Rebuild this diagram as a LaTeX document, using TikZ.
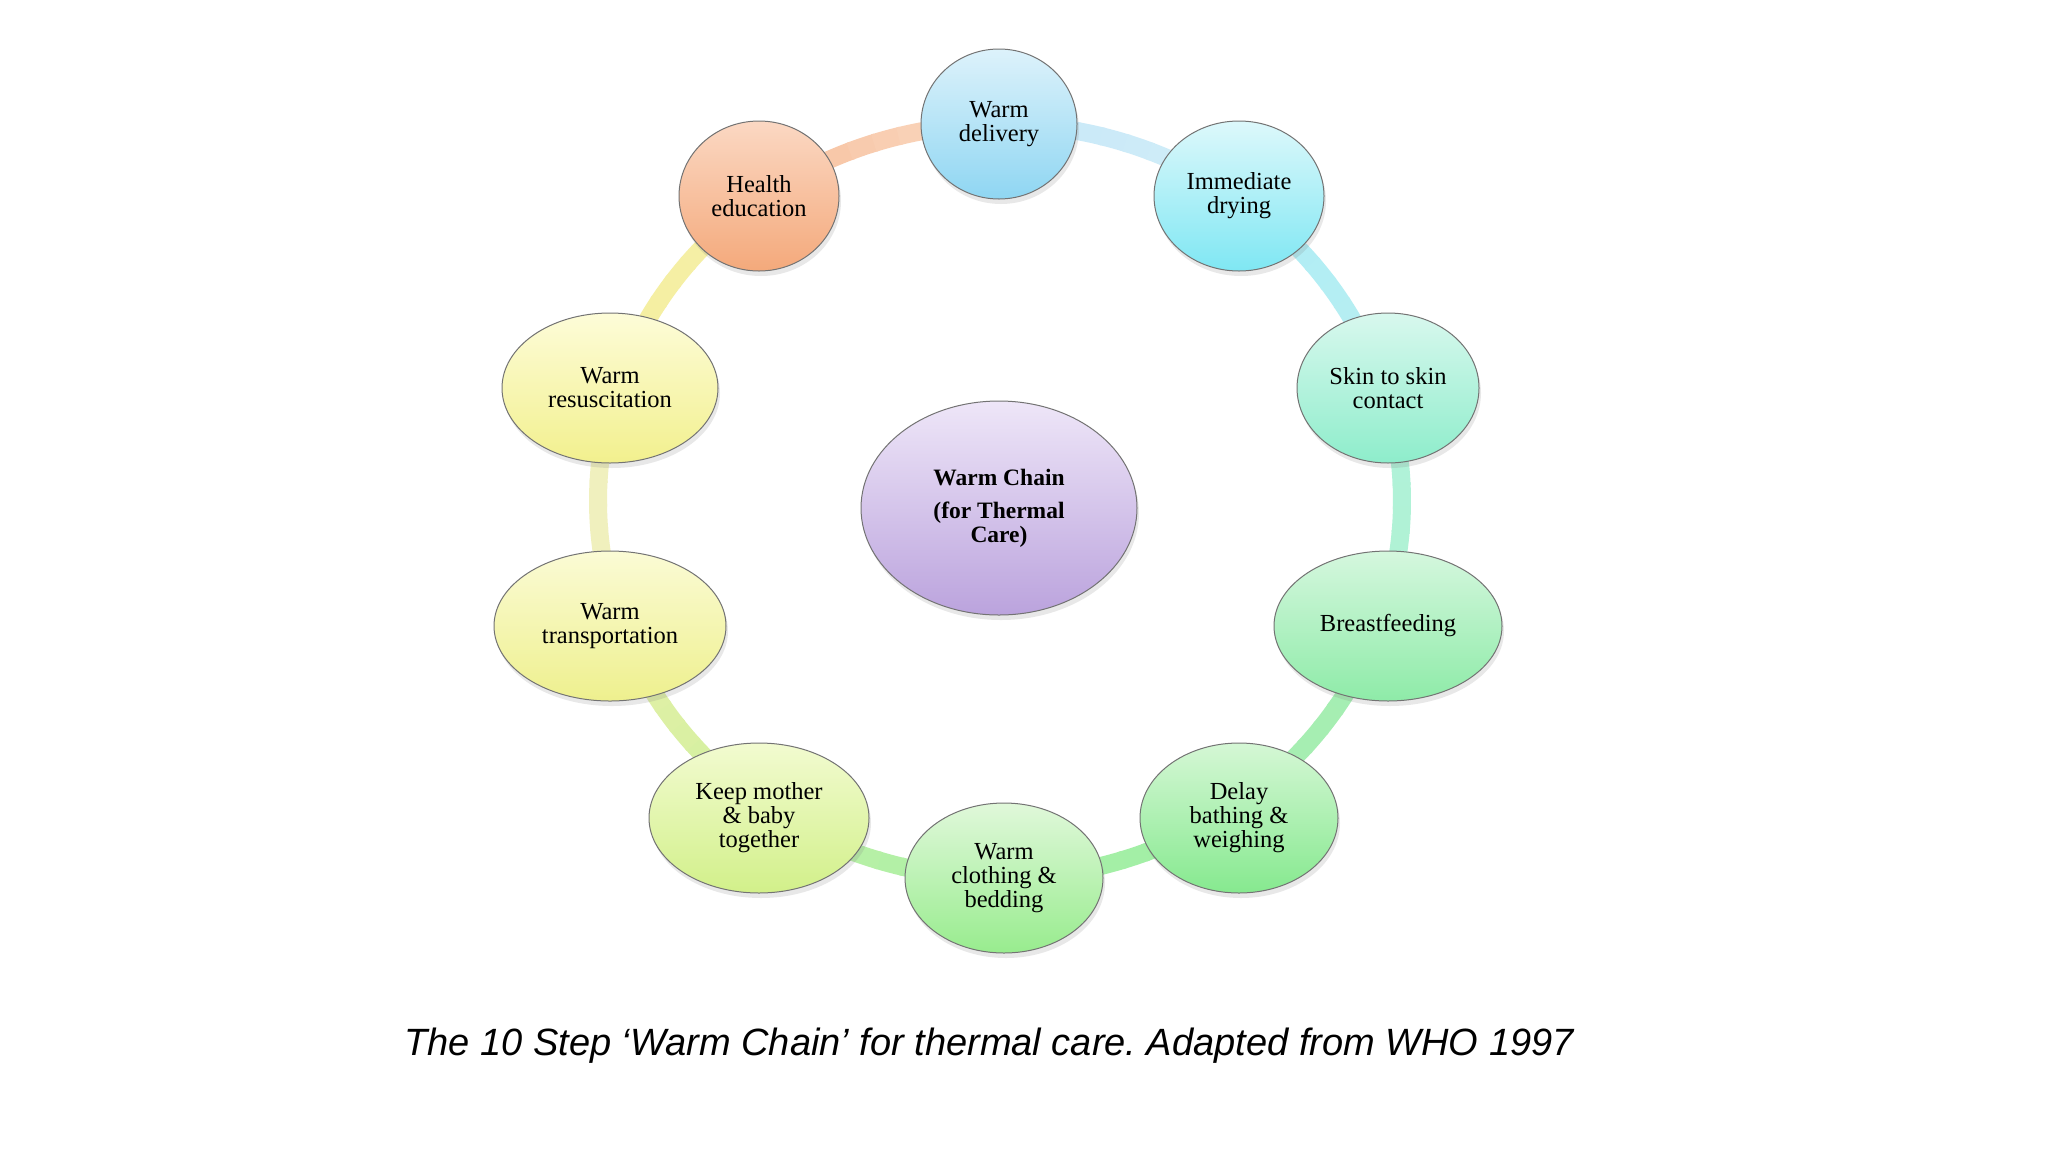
\documentclass[tikz,border=0pt]{standalone}
\usepackage{fontspec}
\setmainfont{Liberation Serif}
\newfontfamily\capfont{Liberation Sans}
\frenchspacing
\usetikzlibrary{shapes.geometric,shadows}
\definecolor{wdT}{HTML}{DDF2FB}\definecolor{wdB}{HTML}{8FD6F2}
\definecolor{idT}{HTML}{DDF8FB}\definecolor{idB}{HTML}{7FE7F3}
\definecolor{skT}{HTML}{D8F8EE}\definecolor{skB}{HTML}{8EEDCB}
\definecolor{bfT}{HTML}{D5F7DE}\definecolor{bfB}{HTML}{8EEBA8}
\definecolor{dbT}{HTML}{D5F7D5}\definecolor{dbB}{HTML}{86E98F}
\definecolor{wcT}{HTML}{E0F8DA}\definecolor{wcB}{HTML}{98EC8E}
\definecolor{kmT}{HTML}{F2FBD0}\definecolor{kmB}{HTML}{D2F08A}
\definecolor{wtT}{HTML}{FBFBD5}\definecolor{wtB}{HTML}{EEF08E}
\definecolor{rsT}{HTML}{FDFCD8}\definecolor{rsB}{HTML}{F2F08E}
\definecolor{heT}{HTML}{FBD8C3}\definecolor{heB}{HTML}{F4A97B}
\definecolor{ctT}{HTML}{EEE6F8}\definecolor{ctB}{HTML}{BBA3DD}
% ring colours
\definecolor{r1a}{HTML}{F6C09C}\definecolor{r1b}{HTML}{FBDCC8}
\definecolor{r2a}{HTML}{C8E8F8}\definecolor{r2b}{HTML}{D2EEF8}
\definecolor{r3a}{HTML}{B0ECF6}\definecolor{r3b}{HTML}{B8F0F0}
\definecolor{r4a}{HTML}{B0F2DC}\definecolor{r4b}{HTML}{B0F2D0}
\definecolor{r5a}{HTML}{A4EEB4}\definecolor{r5b}{HTML}{A8EEB0}
\definecolor{r6a}{HTML}{A0EEA4}\definecolor{r6b}{HTML}{A8F0A8}
\definecolor{r7a}{HTML}{A8F0A8}\definecolor{r7b}{HTML}{C4F0A4}
\definecolor{r8a}{HTML}{D0F0A0}\definecolor{r8b}{HTML}{E8F0A8}
\definecolor{r9a}{HTML}{F0F0BC}\definecolor{r9b}{HTML}{F0F0C0}
\definecolor{r10a}{HTML}{F4F0A0}\definecolor{r10b}{HTML}{F6EEA8}
\tikzset{
  bubble/.style={ellipse, draw=black!55, line width=1pt, inner sep=0pt,
    align=center, font=\fontsize{24.5}{24}\selectfont,
    drop shadow={opacity=0.18, shadow xshift=2pt, shadow yshift=-5pt}},
  shadecol/.style 2 args={top color=#1, bottom color=#2}
}
\begin{document}
\begin{tikzpicture}[x=1pt,y=-1pt]
\useasboundingbox (0,0) rectangle (2048,1152);
\fill[white] (0,0) rectangle (2048,1152);
% ring
\foreach \sa/\ea/\ca/\cb in {233.4/270/r1a/r1b, -90/-53.7/r2a/r2b, -53.7/-17.3/r3a/r3b,
  -17.3/19/r4a/r4b, 19/54.7/r5a/r5b, 54.7/89.4/r6a/r6b, 89.4/125.5/r7a/r7b,
  125.5/161/r8a/r8b, 161/197.3/r9a/r9b, 197.3/233.4/r10a/r10b}{
  \foreach \k in {0,...,9}{
    \pgfmathsetmacro\tA{\sa+(\ea-\sa)*\k/10}
    \pgfmathsetmacro\tB{\sa+(\ea-\sa)*(\k+1)/10+0.4}
    \pgfmathtruncatemacro\pc{100-10*\k}
    \draw[line width=18pt, color=\ca!\pc!\cb] (1000,501) ++(\tA:402 and 377)
      arc[start angle=\tA, end angle=\tB, x radius=402, y radius=377];
  }
}
% nodes
\node[bubble, shadecol={wdT}{wdB}, minimum width=156, minimum height=150] (wd) at (999,124) {Warm\\delivery};
\node[bubble, shadecol={idT}{idB}, minimum width=170, minimum height=150] (id) at (1239,196) {Immediate\\drying};
\node[bubble, shadecol={skT}{skB}, minimum width=182, minimum height=150] (sk) at (1388,388) {Skin to skin\\contact};
\node[bubble, shadecol={bfT}{bfB}, minimum width=228, minimum height=150] (bf) at (1388,626) {Breastfeeding};
\node[bubble, shadecol={dbT}{dbB}, minimum width=198, minimum height=150] (db) at (1239,818) {Delay\\bathing \&\\weighing};
\node[bubble, shadecol={wcT}{wcB}, minimum width=198, minimum height=150] (wc) at (1004,878) {Warm\\clothing \&\\bedding};
\node[bubble, shadecol={kmT}{kmB}, minimum width=220, minimum height=150] (km) at (759,818) {Keep mother\\\& baby\\together};
\node[bubble, shadecol={wtT}{wtB}, minimum width=232, minimum height=150] (wt) at (610,626) {Warm\\transportation};
\node[bubble, shadecol={rsT}{rsB}, minimum width=216, minimum height=150] (rs) at (610,388) {Warm\\resuscitation};
\node[bubble, shadecol={heT}{heB}, minimum width=160, minimum height=150] (he) at (759,196) {Health\\education};
\node[bubble, shadecol={ctT}{ctB}, minimum width=276, minimum height=214,
  font=\fontsize{23.5}{24}\selectfont\bfseries] (ct) at (999,508) {Warm Chain\\[9pt](for Thermal\\Care)};
% caption
\node[font=\capfont\itshape\fontsize{38}{40}\selectfont, inner sep=0pt] (cap) at (989,1046)
  {The 10 Step ‘Warm Chain’ for thermal care. Adapted from WHO 1997};
\end{tikzpicture}
\end{document}
